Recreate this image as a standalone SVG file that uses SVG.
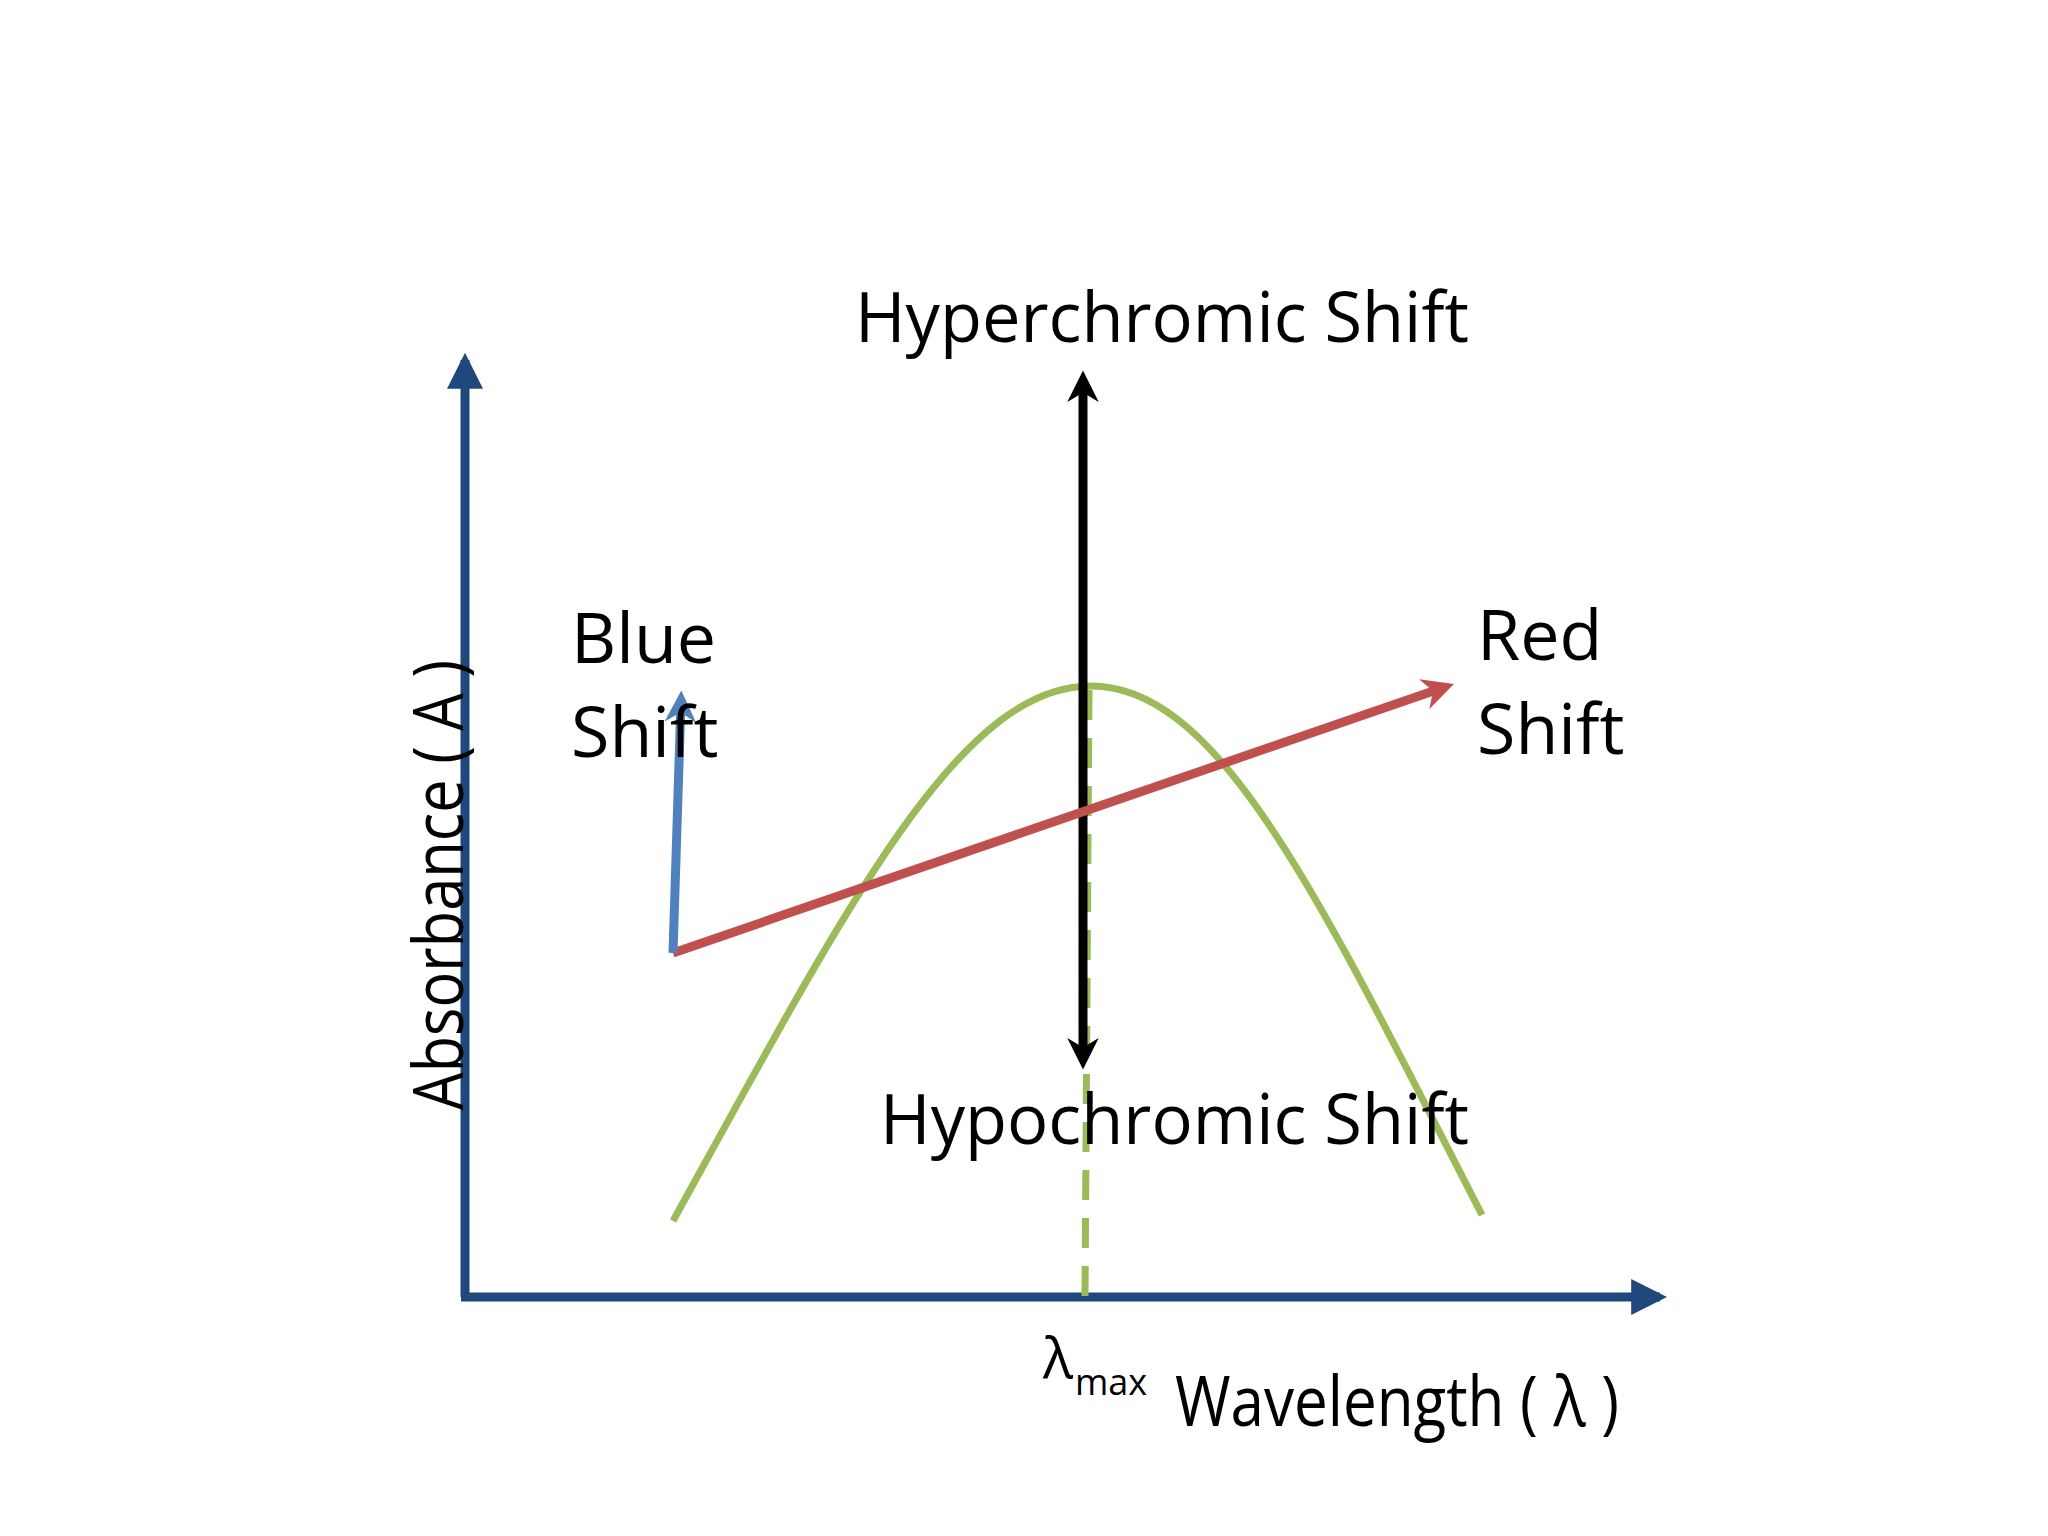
<svg xmlns="http://www.w3.org/2000/svg" width="2048" height="1536" viewBox="0 0 2048 1536">
<style>
text{font-family:"Open Sans","Liberation Sans",sans-serif;fill:#000}
.lbl{font-size:70px}
</style>
<defs>
<marker id="ax" viewBox="0 0 10 10" refX="8" refY="5" markerWidth="4" markerHeight="4" orient="auto" markerUnits="strokeWidth"><path d="M0,0L10,5L0,10z" fill="#1f497d"/></marker>
<marker id="bk" viewBox="0 0 10 10" refX="7" refY="5" markerWidth="3.5" markerHeight="3.5" orient="auto-start-reverse" markerUnits="strokeWidth"><path d="M0,0L10,5L0,10L3,5z" fill="#000"/></marker>
<marker id="rd" viewBox="0 0 10 10" refX="7" refY="5" markerWidth="3.5" markerHeight="3.5" orient="auto" markerUnits="strokeWidth"><path d="M0,0L10,5L0,10L3,5z" fill="#c0504d"/></marker>
<marker id="bl" viewBox="0 0 10 10" refX="7" refY="5" markerWidth="3.5" markerHeight="3.5" orient="auto" markerUnits="strokeWidth"><path d="M0,0L10,5L0,10L3,5z" fill="#4f81bd"/></marker>
</defs>
<rect width="2048" height="1536" fill="#fff"/>
<g id="axes" fill="none" stroke="#1f497d" stroke-width="9">
<path d="M465,1297V360" marker-end="url(#ax)"/>
<path d="M461,1297H1660" marker-end="url(#ax)"/>
</g>
<g id="curve" fill="none" stroke="#9bbb59" stroke-width="7">
<path d="M673,1221C850,900 960,686 1091,686C1220,686 1320,900 1482,1215"/>
<path d="M1089,690L1085,1297" stroke-dasharray="30,18"/>
</g>
<g id="connectors" fill="none" stroke-width="9">
<path d="M1083,1060V380" stroke="#000" marker-start="url(#bk)" marker-end="url(#bk)"/>
<path d="M673,953L1445,687" stroke="#c0504d" marker-end="url(#rd)"/>
<path d="M673,953L681,700" stroke="#4f81bd" marker-end="url(#bl)"/>
</g>
<g id="labels">
<text class="lbl" x="855" y="342" textLength="614" lengthAdjust="spacingAndGlyphs">Hyperchromic Shift</text>
<text class="lbl" x="880" y="1144" textLength="589" lengthAdjust="spacingAndGlyphs">Hypochromic Shift</text>
<text class="lbl" x="571" y="663">Blue</text>
<text class="lbl" x="571" y="757">Shift</text>
<text class="lbl" x="1477" y="660">Red</text>
<text class="lbl" x="1477" y="754">Shift</text>
<text class="lbl" transform="translate(463,1110) rotate(-90)" textLength="450" lengthAdjust="spacingAndGlyphs">Absorbance ( A )</text>
<text x="1043" y="1378" font-size="56">λ</text>
<text x="1075" y="1395" font-size="36">max</text>
<text class="lbl" x="1175" y="1426" font-size="64" textLength="444" lengthAdjust="spacingAndGlyphs">Wavelength ( λ )</text>
</g>
</svg>
